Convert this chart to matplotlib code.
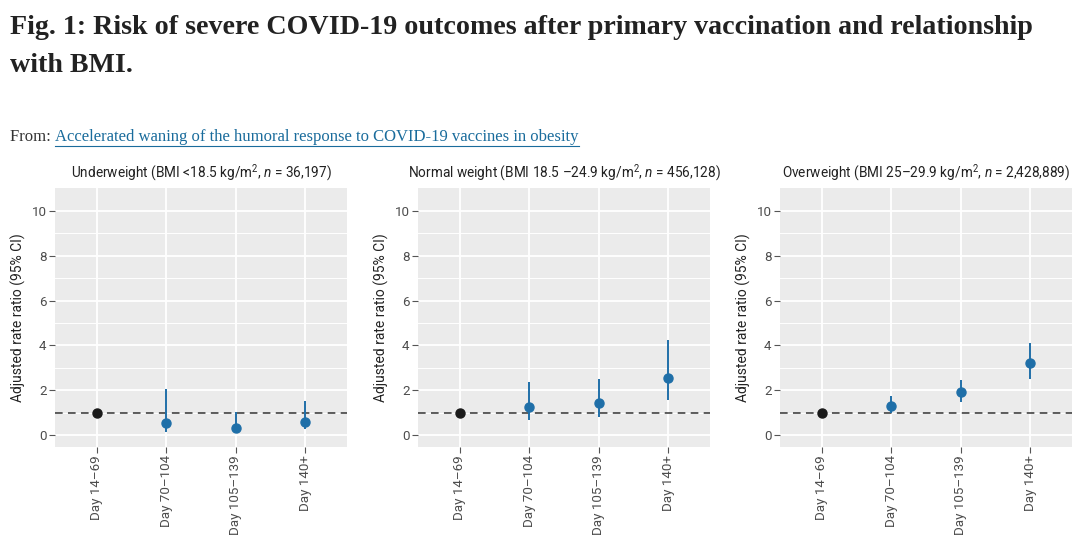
import numpy as np
import matplotlib
matplotlib.use("Agg")
import matplotlib.pyplot as plt
from matplotlib import font_manager as fm
from matplotlib.lines import Line2D

# keep only the normal-width Roboto faces (the condensed ones share the family name)
fm.fontManager.ttflist = [f for f in fm.fontManager.ttflist
                          if not (f.name == "Roboto" and "ondensed" in f.fname)]

plt.rcParams["font.family"] = ["Roboto", "DejaVu Sans"]
plt.rcParams["mathtext.fontset"] = "custom"
plt.rcParams["mathtext.rm"] = "Roboto"
plt.rcParams["mathtext.it"] = "Roboto:italic"

# data
periods = ["Day 14\u201369", "Day 70\u2013104", "Day 105\u2013139", "Day 140+"]
panel_titles = [
    "Underweight (BMI <18.5 kg/m$^{2}$, $\\it{n}$ = 36,197)",
    "Normal weight (BMI 18.5 \u201324.9 kg/m$^{2}$, $\\it{n}$ = 456,128)",
    "Overweight (BMI 25\u201329.9 kg/m$^{2}$, $\\it{n}$ = 2,428,889)",
]
underweight_rr = [1.0, 0.52, 0.30, 0.59]
underweight_lo = [1.0, 0.15, 0.12, 0.25]
underweight_hi = [1.0, 2.03, 1.04, 1.53]
normal_rr = [1.0, 1.26, 1.41, 2.56]
normal_lo = [1.0, 0.67, 0.81, 1.56]
normal_hi = [1.0, 2.37, 2.49, 4.22]
overweight_rr = [1.0, 1.30, 1.90, 3.21]
overweight_lo = [1.0, 1.00, 1.45, 2.49]
overweight_hi = [1.0, 1.75, 2.47, 4.10]

panels = [
    (underweight_rr, underweight_lo, underweight_hi),
    (normal_rr, normal_lo, normal_hi),
    (overweight_rr, overweight_lo, overweight_hi),
]

blue = "#1f6fa8"
grey_bg = "#ebebeb"
tick_col = "#4d4d4d"

fig = plt.figure(figsize=(10.8, 5.42), dpi=100)
fig.patch.set_facecolor("white")

# figure heading
fig.text(10 / 1080, 1 - 28 / 542,
         "Fig. 1: Risk of severe COVID-19 outcomes after primary vaccination and relationship",
         family="Liberation Serif", weight="bold", fontsize=20.2, color="#222222", va="center")
fig.text(10 / 1080, 1 - 65 / 542, "with BMI.",
         family="Liberation Serif", weight="bold", fontsize=20.2, color="#222222", va="center")

t_from = fig.text(10 / 1080, 1 - 137 / 542, "From: ", family="Liberation Serif",
                  fontsize=12, color="#333333", va="center")
fig.canvas.draw()
renderer = fig.canvas.get_renderer()
bb = t_from.get_window_extent(renderer)
link = fig.text(bb.x1 / 1080, 1 - 137 / 542,
                "Accelerated waning of the humoral response to COVID-19 vaccines in obesity",
                family="Liberation Serif", fontsize=12, color="#1a6c9c", va="center")
lb = link.get_window_extent(renderer)
fig.add_artist(Line2D([lb.x0 / 1080, lb.x1 / 1080], [(lb.y0 - 1) / 542] * 2,
                      color="#1a6c9c", lw=0.8))

lefts = [55, 418, 780]
x = np.arange(len(periods))
for i, (rr, lo, hi) in enumerate(panels):
    ax = fig.add_axes([lefts[i] / 1080, 1 - 447 / 542, 292 / 1080, 259 / 542])
    ax.set_facecolor(grey_bg)
    for s in ax.spines.values():
        s.set_visible(False)
    ax.set_xlim(-0.6, 3.6)
    ax.set_ylim(-0.54, 11.03)
    ax.set_yticks([0, 2, 4, 6, 8, 10])
    ax.set_yticks([1, 3, 5, 7, 9], minor=True)
    ax.set_xticks(x)
    ax.set_xticklabels(periods, rotation=90)
    ax.grid(True, which="major", color="white", lw=1.3)
    ax.grid(True, which="minor", axis="y", color="white", lw=0.7)
    ax.set_axisbelow(True)
    ax.tick_params(which="major", length=4, width=0.8, color="#555555",
                   labelcolor=tick_col, labelsize=9.6, pad=2)
    ax.tick_params(which="minor", length=0)
    ax.set_ylabel("Adjusted rate ratio (95% CI)", fontsize=10, color="#222222", labelpad=4)
    ax.set_title(panel_titles[i], fontsize=9.8, color="#222222", pad=8)

    ax.axhline(1, color="#333333", ls=(0, (5, 3.5)), lw=1.1, zorder=2)
    rr = np.array(rr)
    lo = np.array(lo)
    hi = np.array(hi)
    ax.errorbar(x[1:], rr[1:], yerr=[rr[1:] - lo[1:], hi[1:] - rr[1:]],
                fmt="o", color=blue, ms=6.5, elinewidth=1.4, capsize=0, zorder=3)
    ax.plot(x[0], rr[0], "o", color="#1a1a1a", ms=6.5, zorder=4)

fig.savefig("out.png", dpi=100)
